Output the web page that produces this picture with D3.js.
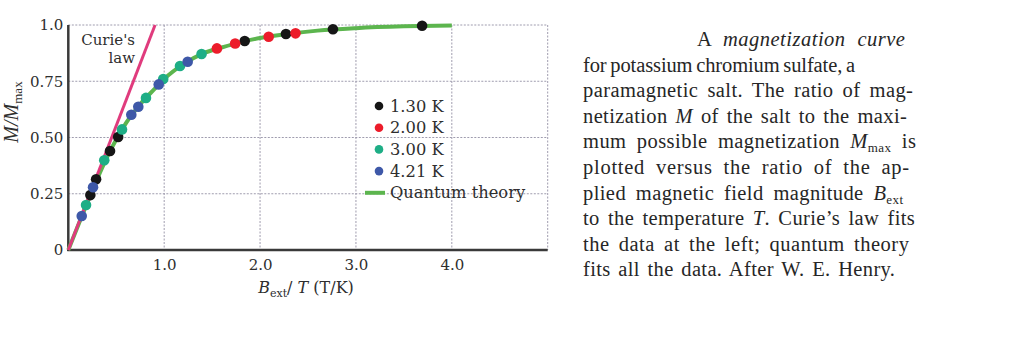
<!DOCTYPE html>
<html><head><meta charset="utf-8">
<script src="https://cdn.jsdelivr.net/npm/d3@7"></script>
<style>body{margin:0;background:#fff}svg{display:block}</style>
</head><body><script>
// Measurements of M/Mmax against Bext/T for each temperature
const k130X = [0.23, 0.29, 0.435, 0.52, 1.84, 2.27, 2.76, 3.69];
const k130Y = [0.244, 0.314, 0.44, 0.502, 0.929, 0.96, 0.981, 0.997];
const k200X = [1.55, 1.74, 2.09, 2.37];
const k200Y = [0.896, 0.918, 0.948, 0.963];
const k300X = [0.185, 0.375, 0.56, 0.81, 0.99, 1.165, 1.39];
const k300Y = [0.20, 0.399, 0.536, 0.676, 0.76, 0.818, 0.871];
const k421X = [0.14, 0.258, 0.657, 0.73, 0.943, 1.245];
const k421Y = [0.151, 0.279, 0.601, 0.637, 0.736, 0.837];
const seriesNames = ["1.30 K", "2.00 K", "3.00 K", "4.21 K"];

// Quantum-theory curve and Curie's-law line
const theoryX = [0, 0.15, 0.3, 0.45, 0.6, 0.75, 0.9, 1.0, 1.2, 1.4, 1.6, 1.8, 2.0, 2.3, 2.6, 3.0, 3.5, 4.0];
const theoryY = [0, 0.16, 0.315, 0.452, 0.563, 0.648, 0.716, 0.76, 0.826, 0.873, 0.90, 0.924, 0.942, 0.961, 0.975, 0.986, 0.994, 0.998];
const curieX = [0, 0.905];
const curieY = [0, 1.0];

const xTickValues = [1, 2, 3, 4];
const yTickValues = [0, 0.25, 0.5, 0.75, 1.0];
const yTickLabels = ["0", "0.25", "0.50", "0.75", "1.0"];

const W = 1024, H = 339;
const colors = ["#161616", "#ec1c2a", "#1eae86", "#3e58a8"];
const theoryColor = "#5cb54e", curieColor = "#e03b7d";
const serifTick = "'DejaVu Serif', serif";
const serifText = "'Liberation Serif', serif";

const svg = d3.select("body").append("svg").attr("width", W).attr("height", H)
  .style("background", "#fff");

const x = d3.scaleLinear().domain([0, 5]).range([68.3, 547.7]);
const y = d3.scaleLinear().domain([0, 1]).range([250, 25]);

// dashed grid
const grid = svg.append("g").attr("stroke", "#9f9cae").attr("stroke-width", 1)
  .attr("stroke-dasharray", "2,1.5");
grid.selectAll("line.v").data([1, 2, 3, 4, 5]).join("line")
  .attr("x1", d => x(d)).attr("x2", d => x(d)).attr("y1", y(1)).attr("y2", y(0));
grid.selectAll("line.h").data([0.25, 0.5, 0.75, 1.0]).join("line")
  .attr("x1", x(0)).attr("x2", x(5)).attr("y1", d => y(d)).attr("y2", d => y(d));

// axis lines
svg.append("line").attr("x1", x(0)).attr("x2", x(0)).attr("y1", y(1)).attr("y2", y(0) + 1)
  .attr("stroke", "#3a3a3a").attr("stroke-width", 2.5);
svg.append("line").attr("x1", x(0) - 1).attr("x2", x(5)).attr("y1", y(0)).attr("y2", y(0))
  .attr("stroke", "#3a3a3a").attr("stroke-width", 2.5);

// tick labels through d3 axes
const xAxis = svg.append("g").attr("transform", `translate(0,${y(0)})`)
  .call(d3.axisBottom(x).tickValues(xTickValues).tickSize(0).tickPadding(9).tickFormat(d3.format(".1f")));
const yAxis = svg.append("g").attr("transform", `translate(${x(0)},0)`)
  .call(d3.axisLeft(y).tickValues(yTickValues).tickSize(0).tickPadding(5)
    .tickFormat((d, i) => yTickLabels[i]));
[xAxis, yAxis].forEach(a => {
  a.select(".domain").remove();
  a.selectAll("text").attr("font-family", serifTick).attr("font-size", 15).attr("fill", "#2e2e2e");
});

// quantum theory curve
const line = d3.line().x(d => x(d[0])).y(d => y(d[1])).curve(d3.curveMonotoneX);
svg.append("path").datum(d3.zip(theoryX, theoryY)).attr("d", line)
  .attr("fill", "none").attr("stroke", theoryColor).attr("stroke-width", 4);

// Curie's law
svg.append("path").datum(d3.zip(curieX, curieY)).attr("d", d3.line().x(d => x(d[0])).y(d => y(d[1])))
  .attr("fill", "none").attr("stroke", curieColor).attr("stroke-width", 3);

// data points
const series = [[k130X, k130Y], [k200X, k200Y], [k300X, k300Y], [k421X, k421Y]];
series.forEach((s, i) => {
  svg.append("g").selectAll("circle").data(d3.zip(s[0], s[1])).join("circle")
    .attr("cx", d => x(d[0])).attr("cy", d => y(d[1])).attr("r", 5.3)
    .attr("fill", colors[i]);
});

// Curie's law annotation
svg.append("text").attr("x", 135).attr("y", 45).attr("text-anchor", "end")
  .attr("font-family", serifTick).attr("font-size", 15).attr("fill", "#2e2e2e").text("Curie's");
svg.append("text").attr("x", 135).attr("y", 63).attr("text-anchor", "end")
  .attr("font-family", serifTick).attr("font-size", 15).attr("fill", "#2e2e2e").text("law");

// legend
const lg = svg.append("g").attr("transform", "translate(379,106)");
seriesNames.forEach((n, i) => {
  lg.append("circle").attr("cx", 0).attr("cy", i * 21.7).attr("r", 4.3).attr("fill", colors[i]);
  lg.append("text").attr("x", 11).attr("y", i * 21.7 + 5.5).attr("font-family", serifTick)
    .attr("font-size", 16.3).attr("fill", "#2e2e2e").text(n);
});
lg.append("line").attr("x1", -14).attr("x2", 6).attr("y1", 4 * 21.7).attr("y2", 4 * 21.7)
  .attr("stroke", theoryColor).attr("stroke-width", 4);
lg.append("text").attr("x", 11).attr("y", 4 * 21.7 + 5.5).attr("font-family", serifTick)
  .attr("font-size", 16.3).attr("fill", "#2e2e2e").text("Quantum theory");

// axis titles
const xt = svg.append("text").attr("x", 306).attr("y", 293).attr("text-anchor", "middle")
  .attr("font-family", serifTick).attr("font-size", 16).attr("fill", "#2e2e2e");
xt.append("tspan").attr("font-style", "italic").text("B");
xt.append("tspan").attr("font-size", 11).attr("dy", 4).text("ext");
xt.append("tspan").attr("dy", -4).text("/ ");
xt.append("tspan").attr("font-style", "italic").text("T");
xt.append("tspan").text(" (T/K)");

const yt = svg.append("text").attr("transform", "translate(18,112) rotate(-90)")
  .attr("text-anchor", "middle").attr("font-family", serifText).attr("font-size", 20).attr("fill", "#2e2e2e");
yt.append("tspan").attr("font-style", "italic").text("M");
yt.append("tspan").attr("font-style", "italic").text("/");
yt.append("tspan").attr("font-style", "italic").text("M");
yt.append("tspan").attr("font-size", 13).attr("dy", 4).text("max");

// caption, each line spaced out to its column width
const caption = [
  [["A ", "n"], ["magnetization curve", "i"]],
  [["for potassium chromium sulfate, a", "n"]],
  [["paramagnetic salt. The ratio of mag-", "n"]],
  [["netization ", "n"], ["M", "i"], [" of the salt to the maxi-", "n"]],
  [["mum possible magnetization ", "n"], ["M", "i"], ["max", "s"], [" is", "n"]],
  [["plotted versus the ratio of the ap-", "n"]],
  [["plied magnetic field magnitude ", "n"], ["B", "i"], ["ext", "s"]],
  [["to the temperature ", "n"], ["T", "i"], [". Curie\u2019s law fits", "n"]],
  [["the data at the left; quantum theory", "n"]],
  [["fits all the data. After W. E. Henry.", "n"]]
];
const lineWidths = [208, 272, 330, 324, 333, 326, 320, 332, 326, 312];
caption.forEach((segs, i) => {
  const t = svg.append("text").attr("x", i === 0 ? 697 : 583).attr("y", 46 + i * 25.6)
    .attr("font-family", serifText).attr("font-size", 20.5).attr("fill", "#262626");
  let sub = false;
  segs.forEach(([s, k]) => {
    const ts = t.append("tspan").text(s);
    if (k === "i") ts.attr("font-style", "italic");
    if (k === "s") { ts.attr("font-size", 13).attr("dy", 4); sub = true; }
    else if (sub) { ts.attr("dy", -4); sub = false; }
  });
  const str = segs.map(s => s[0]).join("");
  const natural = t.node().getComputedTextLength();
  const extra = lineWidths[i] - natural;
  const nSpaces = (str.match(/ /g) || []).length;
  const ls = 0.45 * extra / Math.max(1, str.length - 1);
  const ws = 0.55 * extra / Math.max(1, nSpaces);
  t.attr("letter-spacing", ls.toFixed(2)).attr("word-spacing", ws.toFixed(2));
});
</script></body></html>
